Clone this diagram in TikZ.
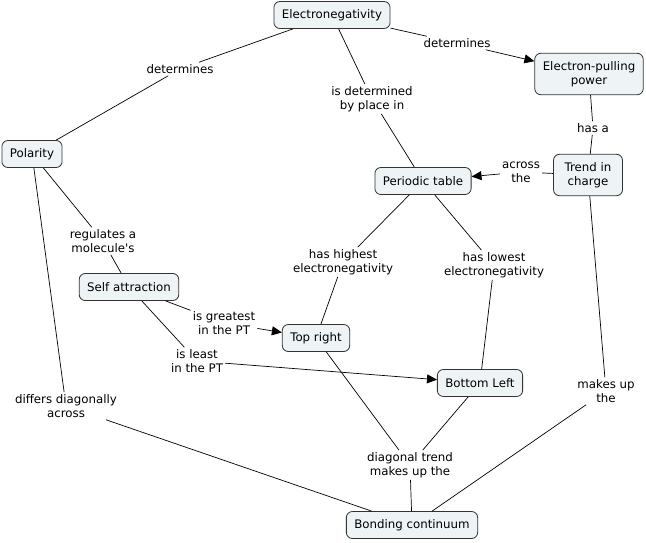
\documentclass[tikz,border=0pt]{standalone}
\usepackage{fontspec}
\setmainfont{DejaVu Sans}[Ligatures=TeXOff]
\usetikzlibrary{arrows.meta}
\definecolor{boxfill}{HTML}{EEF3F6}
\definecolor{boxline}{HTML}{333333}
\begin{document}
\begin{tikzpicture}[x=1pt,y=-1pt,
  font=\fontsize{11.8}{14}\selectfont,
  concept/.style={draw=boxline, fill=boxfill, rounded corners=6pt, align=center,
    inner xsep=8pt, inner ysep=6pt, minimum height=27pt, line width=0.8pt},
  twoline/.style={inner ysep=8pt},
  lbl/.style={align=center, inner sep=2pt},
  link/.style={draw=black, line width=0.7pt},
  arr/.style={link, -{Triangle[length=10pt,width=9pt]}}]
\useasboundingbox (0,0) rectangle (646,542);
% concepts
\node[concept] (en) at (332,15) {Electronegativity};
\node[concept, twoline] (epp) at (589,74) {Electron-pulling\\power};
\node[concept] (pol) at (32,154) {Polarity};
\node[concept] (pt) at (423,181) {Periodic table};
\node[concept, twoline, minimum width=69pt] (tic) at (588,175) {Trend in\\charge};
\node[concept] (sa) at (129,287) {Self attraction};
\node[concept] (tr) at (316,338) {Top right};
\node[concept] (bl) at (480,383) {Bottom Left};
\node[concept] (bc) at (412,525) {Bonding continuum};
% labels
\node[lbl] (l1) at (180,69) {determines};
\node[lbl] (l2) at (457,43) {determines};
\node[lbl] (l3) at (372,99) {is determined\\by place in};
\node[lbl] (l4) at (593,128) {has a};
\node[lbl] (l5) at (521,172) {across\\the};
\node[lbl] (l6) at (103,241) {regulates a\\molecule's};
\node[lbl] (l7) at (343,262) {has highest\\electronegativity};
\node[lbl] (l8) at (494,265) {has lowest\\electronegativity};
\node[lbl] (l9) at (224,323) {is greatest\\in the PT};
\node[lbl] (l10) at (197,361) {is least\\in the PT};
\node[lbl] (l11) at (66,406) {differs diagonally\\across};
\node[lbl] (l12) at (410,465) {diagonal trend\\makes up the};
\node[lbl] (l13) at (606,391) {makes up\\the};
% connectors
\draw[link] (en) -- (l1); \draw[link] (l1) -- (pol);
\draw[link] (en) -- (l2); \draw[arr] (l2) -- (epp);
\draw[link] (en) -- (l3); \draw[link] (l3) -- (pt);
\draw[link] (epp) -- (l4); \draw[link] (l4) -- (tic);
\draw[link] (tic) -- (l5); \draw[arr] (l5) -- (pt);
\draw[link] (pol) -- (l6); \draw[link] (l6) -- (sa);
\draw[link] (pol) -- (l11); \draw[link] (l11) -- (bc);
\draw[link] (pt) -- (l7); \draw[link] (l7) -- (tr);
\draw[link] (pt) -- (l8); \draw[link] (l8) -- (bl);
\draw[link] (sa) -- (l9); \draw[arr] (l9) -- (tr);
\draw[link] (sa) -- (l10); \draw[arr] (l10) -- (bl);
\draw[link] (tr) -- (l12); \draw[link] (bl) -- (l12); \draw[link] (l12) -- (bc);
\draw[link] (tic) -- (l13); \draw[link] (l13) -- (bc);
\end{tikzpicture}
\end{document}
